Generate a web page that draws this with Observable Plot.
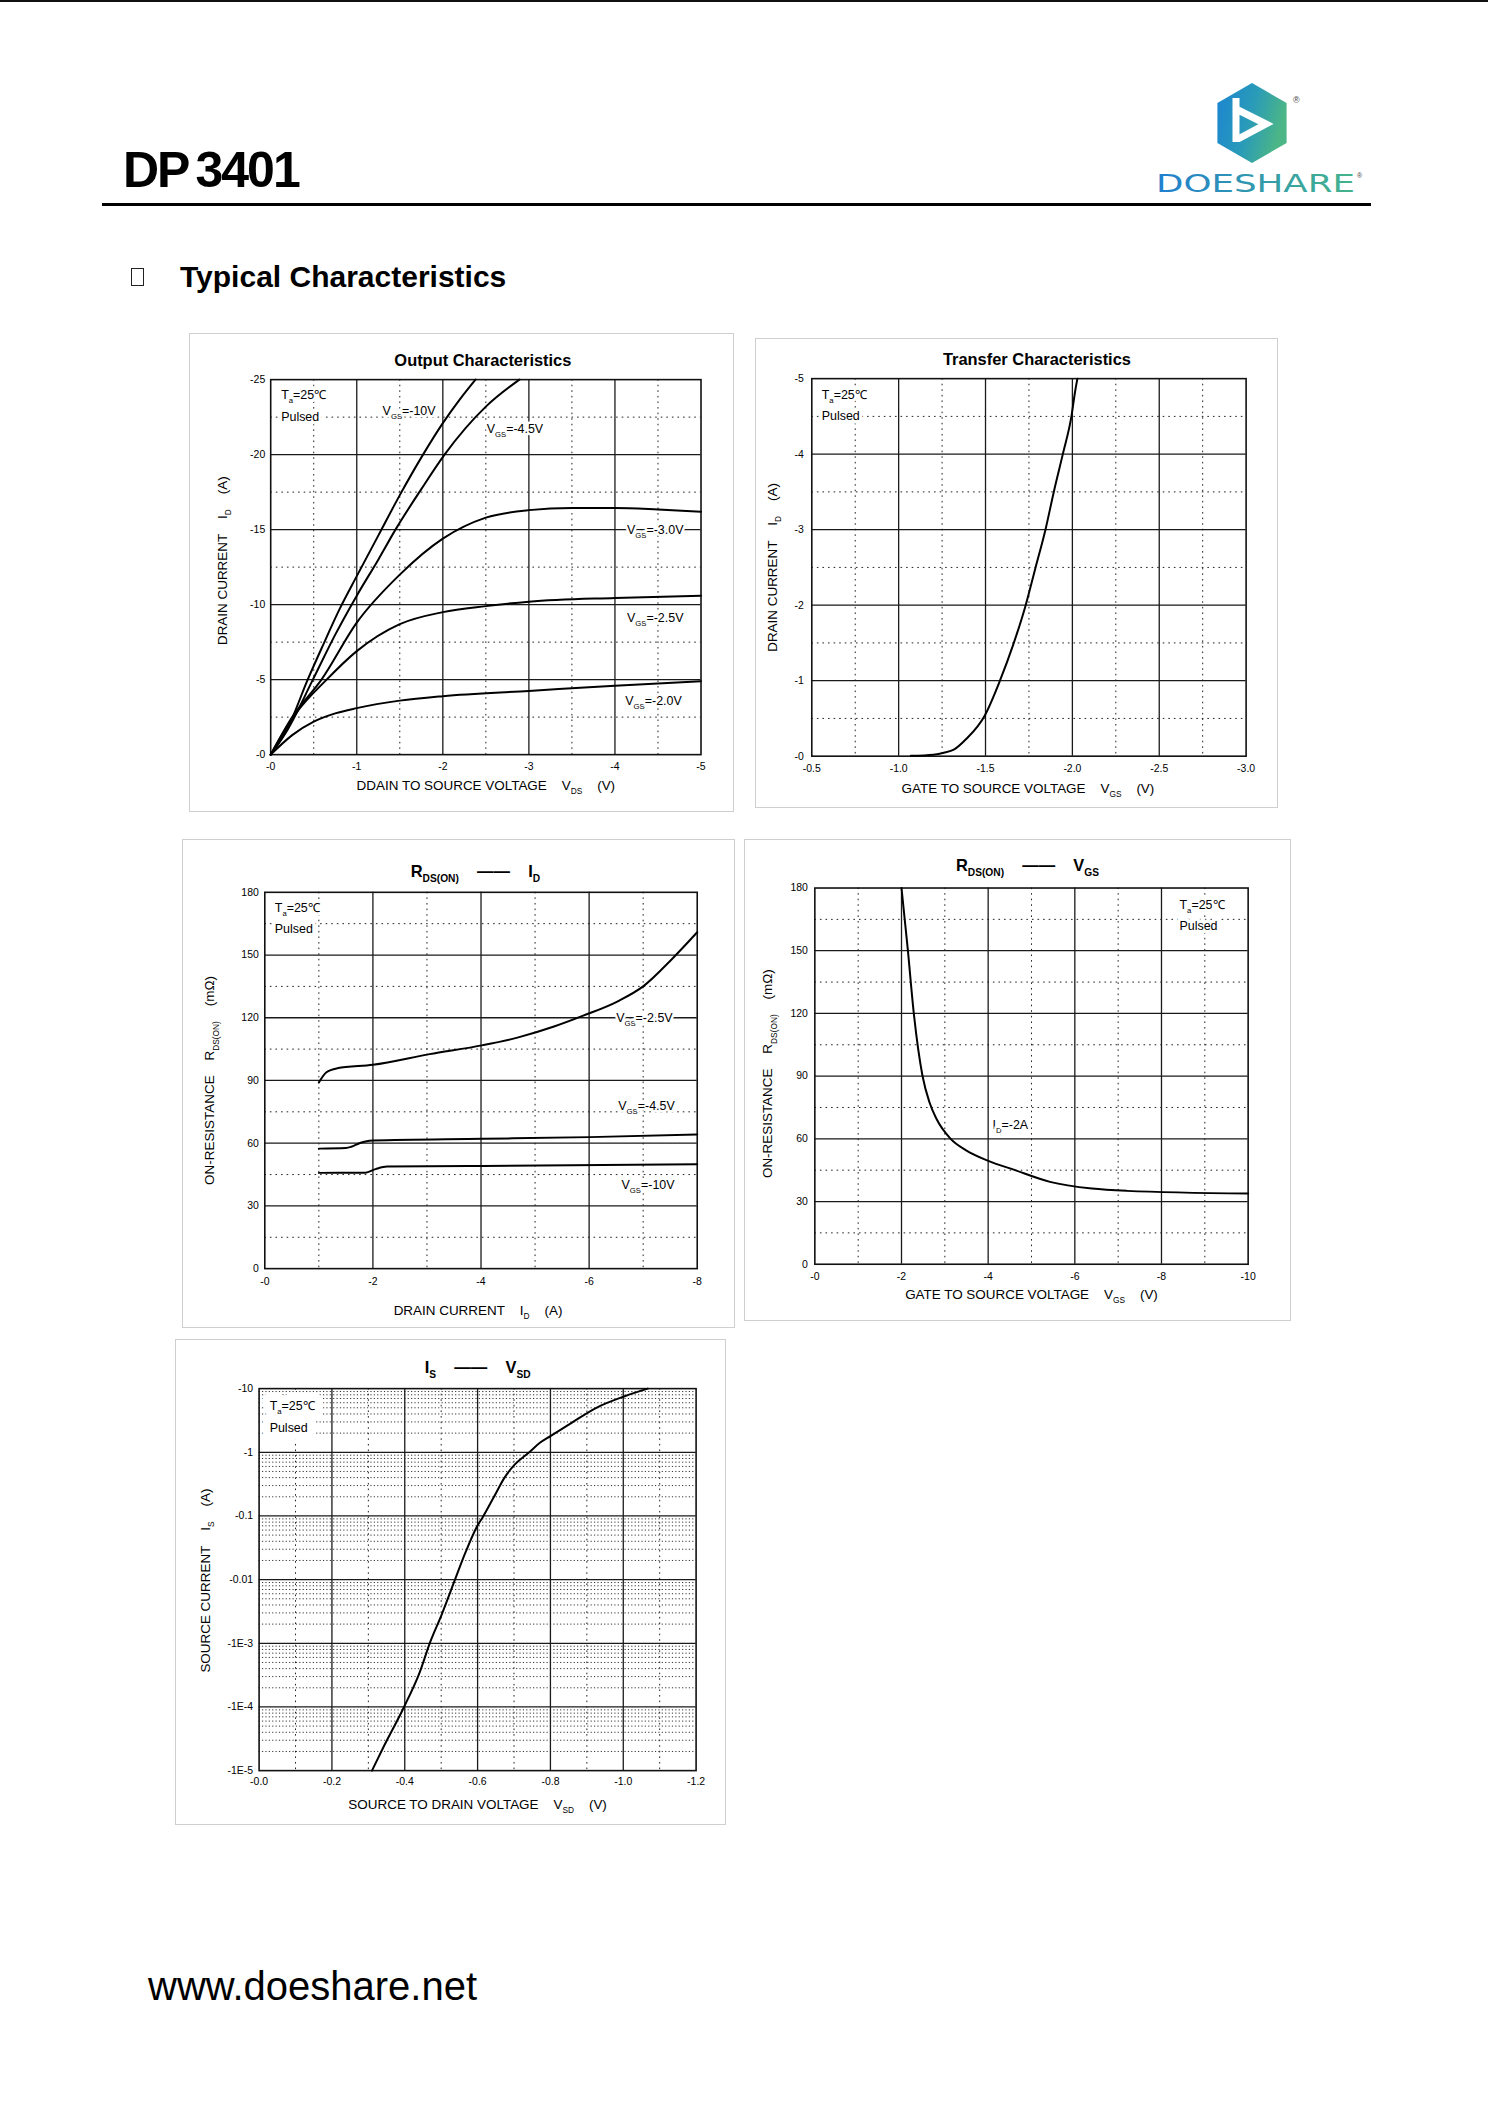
<!DOCTYPE html>
<html lang="en">
<head>
<meta charset="utf-8">
<title>DP3401 Typical Characteristics</title>
<script src="https://cdn.jsdelivr.net/npm/d3@7"></script>
<script src="https://cdn.jsdelivr.net/npm/@observablehq/plot@0.6"></script>
<style>
html,body{margin:0;padding:0;background:#fff;}
#page{position:relative;width:1488px;height:2104px;overflow:hidden;font-family:"Liberation Sans",Arial,Helvetica,sans-serif;color:#000;background:#fff;}
.abs{position:absolute;}
.chartbox{position:absolute;box-sizing:border-box;border:1px solid #cfcfcf;}
.chartbox svg{position:absolute;left:-1px;top:-1px;}
</style>
</head>
<body>
<div id="page">
  <div class="abs" style="left:0;top:0;width:1488px;height:2px;background:#111"></div>
  <div class="abs" style="left:123px;top:145px;font-size:50px;line-height:50px;font-weight:bold;letter-spacing:-2px;white-space:nowrap">DP<span style="margin-left:7px">3401</span></div>
  <div class="abs" style="left:102px;top:203px;width:1269px;height:3px;background:#000"></div>
  <svg class="abs" style="left:1150px;top:76px" width="220" height="124" viewBox="0 0 220 124">
    <defs>
      <linearGradient id="hexg" x1="0" y1="0" x2="1" y2="0.3">
        <stop offset="0" stop-color="#1a84d2"/><stop offset="0.55" stop-color="#2a9bb8"/><stop offset="1" stop-color="#4cb686"/>
      </linearGradient>
      <linearGradient id="txtg" gradientUnits="userSpaceOnUse" x1="6" y1="0" x2="206" y2="0">
        <stop offset="0" stop-color="#1f7fd0"/><stop offset="1" stop-color="#45b48a"/>
      </linearGradient>
    </defs>
    <polygon points="102,7 136.6,27 136.6,67 102,87 67.4,67 67.4,27" fill="url(#hexg)"/>
    <path d="M86,22 L86,66 M86,33 L116,48 L88,63" fill="none" stroke="#fff" stroke-width="7" stroke-linejoin="miter"/>
    <text x="143" y="27" font-size="9" fill="#444">®</text>
    <text x="6" y="116" font-size="25" font-family="DejaVu Sans, sans-serif" textLength="199" lengthAdjust="spacingAndGlyphs" fill="url(#txtg)">DOESHARE</text>
    <text x="207" y="102" font-size="7" fill="#444">®</text>
  </svg>
  <div class="abs" style="left:131px;top:268px;width:13px;height:18px;box-sizing:border-box;border:1.3px solid #222"></div>
  <div class="abs" style="left:180px;top:262px;font-size:30px;line-height:30px;font-weight:bold;white-space:nowrap">Typical Characteristics</div>
  <div class="abs" style="left:148px;top:1966px;font-size:40px;line-height:40px;white-space:nowrap">www.doeshare.net</div>
</div>
<script>
// ---------------- DATA ----------------
// 1. Output characteristics: [VDS (V), ID (A)]
const outVgs10 = [[0,0],[-0.2,-1.8],[-0.43,-5],[-0.6,-7.2],[-0.8,-9.7],[-1.0,-11.9],[-1.25,-14.6],[-1.5,-17.3],[-1.77,-20],[-2.0,-22.1],[-2.2,-23.7],[-2.38,-25]];
const outVgs45 = [[0,0],[-0.2,-1.7],[-0.49,-5],[-0.75,-8.0],[-1.0,-10.6],[-1.25,-13.0],[-1.45,-15],[-1.75,-17.7],[-2.02,-20],[-2.5,-23.2],[-2.89,-25]];
const outVgs30 = [[0,0],[-0.25,-2.5],[-0.59,-5],[-1.0,-8.8],[-1.5,-12.0],[-2.0,-14.4],[-2.5,-15.8],[-3.0,-16.3],[-3.5,-16.45],[-4.0,-16.45],[-4.5,-16.35],[-5.0,-16.2]];
const outVgs25 = [[0,0],[-0.3,-2.8],[-0.65,-5],[-1.0,-6.9],[-1.5,-8.7],[-2.0,-9.5],[-2.5,-9.9],[-3.0,-10.2],[-4.0,-10.45],[-5.0,-10.6]];
const outVgs20 = [[0,0],[-0.25,-1.3],[-0.5,-2.2],[-0.75,-2.75],[-1.0,-3.1],[-1.5,-3.6],[-2.0,-3.9],[-3.0,-4.25],[-4.0,-4.6],[-5.0,-4.9]];
const outLabels = ["V_{GS}=-10V","V_{GS}=-4.5V","V_{GS}=-3.0V","V_{GS}=-2.5V","V_{GS}=-2.0V"];
const outLabelAt = [[-1.30,-22.9],[-2.51,-21.7],[-4.14,-15.0],[-4.14,-9.1],[-4.12,-3.6]];
const outXTicks = [0,-1,-2,-3,-4,-5];
const outXMinor = [-0.5,-1.5,-2.5,-3.5,-4.5];
const outYTicks = [0,-5,-10,-15,-20,-25];
const outYMinor = [-2.5,-7.5,-12.5,-17.5,-22.5];

// 2. Transfer characteristics: VGS (V), ID (A)
const trVgs = [-1.07,-1.2,-1.26,-1.32,-1.39,-1.496,-1.583,-1.66,-1.73,-1.787,-1.845,-1.893,-1.946,-1.996,-2.015,-2.029];
const trId  = [-0.005,-0.02,-0.045,-0.09,-0.23,-0.54,-1.0,-1.48,-1.99,-2.49,-3.0,-3.5,-4.01,-4.52,-4.82,-5.0];
const trXTicks = [-0.5,-1.0,-1.5,-2.0,-2.5,-3.0];
const trXMinor = [-0.75,-1.25,-1.75,-2.25,-2.75];
const trYTicks = [0,-1,-2,-3,-4,-5];
const trYMinor = [-0.5,-1.5,-2.5,-3.5,-4.5];

// 3. RDS(ON) vs ID: [ID (A), RDS(ON) (mΩ)]
const rdsIdVgs25 = [[-1.0,89],[-1.14,93.9],[-1.34,95.8],[-2.0,97.5],[-3.05,102.6],[-4.04,106.9],[-4.69,110.6],[-5.35,115.8],[-5.88,120.9],[-6.54,128],[-7.0,135],[-7.53,148],[-8.0,160.9]];
const rdsIdVgs45 = [[-1.0,57.4],[-1.5,57.7],[-1.6,58.3],[-1.75,60],[-1.86,60.8],[-2.0,61.3],[-4.04,62.1],[-6.01,62.9],[-8.0,64.2]];
const rdsIdVgs10 = [[-1.0,45.8],[-1.86,45.9],[-2.05,47.6],[-2.26,48.8],[-4.04,49.1],[-8.0,49.9]];
const rdsIdLabels = ["V_{GS}=-2.5V","V_{GS}=-4.5V","V_{GS}=-10V"];
const rdsIdLabelAt = [[-6.5,120],[-6.54,78],[-6.6,40.2]];
const rdsIdXTicks = [0,-2,-4,-6,-8];
const rdsIdXMinor = [-1,-3,-5,-7];
const rdsYTicks = [0,30,60,90,120,150,180];
const rdsYMinor = [15,45,75,105,135,165];

// 4. RDS(ON) vs VGS: [VGS (V), RDS(ON) (mΩ)], ID = -2A
const rdsVgs = [[-2.0,180],[-2.145,150.6],[-2.282,120.4],[-2.484,90.2],[-2.645,77.5],[-2.806,69.6],[-3.129,60.1],[-3.492,54.5],[-3.976,49.7],[-4.621,45.0],[-5.427,39.4],[-6.395,36.2],[-7.2,35.1],[-10.0,33.8]];
const rdsVgsLabels = ["I_{D}=-2A"];
const rdsVgsLabelAt = [[-4.1,66.4]];
const rdsVgsXTicks = [0,-2,-4,-6,-8,-10];
const rdsVgsXMinor = [-1,-3,-5,-7,-9];

// 5. IS vs VSD: [VSD (V), IS (A)]
const isVsd = [[-0.31,-1.0e-5],[-0.344,-2.5e-5],[-0.398,-1e-4],[-0.441,-3.5e-4],[-0.47,-1.05e-3],[-0.5,-2.7e-3],[-0.538,-0.01],[-0.567,-0.027],[-0.597,-0.066],[-0.616,-0.1],[-0.645,-0.2],[-0.674,-0.4],[-0.703,-0.65],[-0.742,-1.0],[-0.771,-1.41],[-0.80,-1.8],[-0.858,-2.9],[-0.926,-5.0],[-1.004,-7.6],[-1.067,-10]];
const isXTicks = [0,-0.2,-0.4,-0.6,-0.8,-1.0,-1.2];
const isXMinor = [-0.1,-0.3,-0.5,-0.7,-0.9,-1.1];
const isYTicks = [-10,-1,-0.1,-0.01,-1e-3,-1e-4,-1e-5];
const isYTickLabels = ["-10","-1","-0.1","-0.01","-1E-3","-1E-4","-1E-5"];
const isYMinor = isYTicks.slice(1).flatMap(d => [2,3,4,5,6,7,8,9].map(k => d * k));

// ---------------- RENDERING ----------------
const FONT = '"Liberation Sans", Arial, Helvetica, sans-serif';
const NB = "\u00a0\u00a0\u00a0\u00a0";

function subscriptify(svg) {
  const NS = "http://www.w3.org/2000/svg";
  const els = [];
  svg.querySelectorAll("text").forEach(t => {
    const spans = t.querySelectorAll("tspan");
    if (spans.length) spans.forEach(s => els.push(s)); else els.push(t);
  });
  for (const el of els) {
    const s = el.textContent;
    if (!s.includes("_{")) continue;
    const fs = parseFloat(getComputedStyle(el).fontSize) || 12;
    const shift = fs * 0.32;
    while (el.firstChild) el.removeChild(el.firstChild);
    const re = /_\{([^}]*)\}/g;
    let last = 0, m, down = false;
    const add = (txt, sub) => {
      if (!txt) return;
      const ts = document.createElementNS(NS, "tspan");
      ts.textContent = txt;
      if (sub) {
        ts.setAttribute("font-size", (fs * 0.62).toFixed(2));
        if (!down) { ts.setAttribute("dy", shift.toFixed(2)); down = true; }
      } else if (down) { ts.setAttribute("dy", (-shift).toFixed(2)); down = false; }
      el.appendChild(ts);
    };
    while ((m = re.exec(s))) { add(s.slice(last, m.index), false); add(m[1], true); last = re.lastIndex; }
    add(s.slice(last), false);
  }
}

function chart(o) {
  const [bx0, by0, bx1, by1] = o.box;
  const [fx0, fy0, fx1, fy1] = o.frame;
  const width = bx1 - bx0, height = by1 - by0;
  const dash = o.dash || "1.6,4";
  const marks = [
    Plot.ruleX(o.xMinor, {stroke: "#222", strokeWidth: 1, strokeDasharray: dash}),
    Plot.ruleY(o.yMinor, {stroke: o.yMinorColor || "#222", strokeWidth: 1, strokeDasharray: o.yDash || dash}),
    Plot.ruleX(o.xMajor, {stroke: "#1a1a1a", strokeWidth: 1.3}),
    Plot.ruleY(o.yMajor, {stroke: "#1a1a1a", strokeWidth: 1.3}),
    Plot.frame({stroke: "#111", strokeWidth: 1.6}),
    ...o.series.map(s => Plot.line(s.data, {x: s.x, y: s.y, curve: "monotone-x", stroke: "#000", strokeWidth: 2})),
  ];
  if (o.labels) {
    marks.push(Plot.text(o.labels, {
      x: (d, i) => o.labelAt[i][0], y: (d, i) => o.labelAt[i][1], text: d => d,
      textAnchor: "start", lineAnchor: "middle", fontSize: 12.5,
      fill: "#000", stroke: "#fff", strokeWidth: 5, paintOrder: "stroke"
    }));
  }
  // notes: a white halo layer first, then the black text on top
  o.notes.forEach(n => marks.push(Plot.text([n.text], {
    text: d => d, frameAnchor: "top-left", textAnchor: "start", lineAnchor: "middle",
    dx: n.dx, dy: n.dy, fontSize: 12.5, fill: "#fff", stroke: "#fff", strokeWidth: o.noteHalo || 7
  })));
  o.notes.forEach(n => marks.push(Plot.text([n.text], {
    text: d => d, frameAnchor: "top-left", textAnchor: "start", lineAnchor: "middle",
    dx: n.dx, dy: n.dy, fontSize: 12.5, fill: "#000"
  })));
  marks.push(Plot.text([o.title], {text: d => d, frameAnchor: "top", textAnchor: "middle", lineAnchor: "middle", dx: o.titleDx, dy: o.titleDy, fontSize: 16.5, fontWeight: "bold"}));
  marks.push(Plot.text([o.xLabel], {text: d => d, frameAnchor: "bottom", textAnchor: "middle", lineAnchor: "middle", dx: o.xLabelDx || 0, dy: o.xLabelDy, fontSize: 13.5}));
  marks.push(Plot.text([o.yLabel], {text: d => d, frameAnchor: "left", textAnchor: "middle", rotate: -90, lineAnchor: "middle", dx: o.yLabelDx, dy: o.yLabelDy || 0, fontSize: 13.5}));

  const svg = Plot.plot({
    width, height,
    marginLeft: fx0 - bx0, marginRight: bx1 - fx1, marginTop: fy0 - by0, marginBottom: by1 - fy1,
    style: {fontFamily: FONT, fontSize: "10.5px", color: "#000", background: "transparent", overflow: "visible"},
    x: {domain: o.xDomain, ticks: o.xTicks, tickFormat: o.xFmt, tickSize: 0, tickPadding: o.xPad, label: null},
    y: {type: o.yType || "linear", domain: o.yDomain, ticks: o.yTicks, tickFormat: o.yFmt, tickSize: 0, tickPadding: o.yPad, label: null},
    marks
  });
  const box = document.createElement("div");
  box.className = "chartbox";
  Object.assign(box.style, {left: bx0 + "px", top: by0 + "px", width: width + "px", height: height + "px"});
  box.appendChild(svg);
  document.getElementById("page").appendChild(box);
  subscriptify(svg);
}

const intNeg = d => d === 0 ? "-0" : String(d);
const fix1 = d => (d === 0 ? "-" : "") + d.toFixed(1);
const xy = {x: d => d[0], y: d => d[1]};

// 1. Output characteristics
chart({
  box: [189, 333, 734, 812], frame: [270.5, 379.3, 702.4, 755.7],
  xDomain: [0, -5], yDomain: [0, -25],
  xTicks: outXTicks, yTicks: outYTicks, xMajor: outXTicks.slice(1, -1), yMajor: outYTicks.slice(1, -1),
  xMinor: outXMinor, yMinor: outYMinor, xFmt: intNeg, yFmt: intNeg, xPad: 8, yPad: 5.5,
  series: [outVgs10, outVgs45, outVgs30, outVgs25, outVgs20].map(d => ({data: d, ...xy})),
  labels: outLabels, labelAt: outLabelAt,
  notes: [{text: "T_{a}=25℃", dx: 10.5, dy: 15.7}, {text: "Pulsed", dx: 10.5, dy: 37.4}],
  title: "Output Characteristics", titleDx: -3, titleDy: -19,
  xLabel: "DDAIN TO SOURCE VOLTAGE" + NB + "V_{DS}" + NB + "(V)", xLabelDy: 31,
  yLabel: "DRAIN CURRENT" + NB + "I_{D}" + NB + "(A)", yLabelDx: -48, yLabelDy: -6.5
});

// 2. Transfer characteristics
chart({
  box: [755, 338, 1278, 808], frame: [811.5, 378.3, 1247.5, 757.3],
  xDomain: [-0.5, -3.0], yDomain: [0, -5],
  xTicks: trXTicks, yTicks: trYTicks, xMajor: trXTicks.slice(1, -1), yMajor: trYTicks.slice(1, -1),
  xMinor: trXMinor, yMinor: trYMinor, xFmt: fix1, yFmt: intNeg, xPad: 8, yPad: 8,
  series: [{data: trVgs, x: (d, i) => trVgs[i], y: (d, i) => trId[i]}],
  notes: [{text: "T_{a}=25℃", dx: 10, dy: 16.7}, {text: "Pulsed", dx: 10, dy: 37.7}],
  title: "Transfer Characteristics", titleDx: 8, titleDy: -18.5,
  xLabel: "GATE TO SOURCE VOLTAGE" + NB + "V_{GS}" + NB + "(V)", xLabelDx: -1, xLabelDy: 32.7,
  yLabel: "DRAIN CURRENT" + NB + "I_{D}" + NB + "(A)", yLabelDx: -39.5, yLabelDy: 0
});

// 3. RDS(ON) vs ID
chart({
  box: [182, 839, 735, 1328], frame: [264.6, 892, 698.6, 1269.7],
  xDomain: [0, -8], yDomain: [0, 180],
  xTicks: rdsIdXTicks, yTicks: rdsYTicks, xMajor: rdsIdXTicks.slice(1, -1), yMajor: rdsYTicks.slice(1, -1),
  xMinor: rdsIdXMinor, yMinor: rdsYMinor, xFmt: intNeg, yFmt: d => String(d), xPad: 9, yPad: 6,
  series: [rdsIdVgs25, rdsIdVgs45, rdsIdVgs10].map(d => ({data: d, ...xy})),
  labels: rdsIdLabels, labelAt: rdsIdLabelAt,
  notes: [{text: "T_{a}=25℃", dx: 10, dy: 15.7}, {text: "Pulsed", dx: 10, dy: 37.3}],
  title: "R_{DS(ON)}" + NB + "——" + NB + "I_{D}", titleDx: -5.6, titleDy: -21,
  xLabel: "DRAIN CURRENT" + NB + "I_{D}" + NB + "(A)", xLabelDx: -3, xLabelDy: 42,
  yLabel: "ON-RESISTANCE" + NB + "R_{DS(ON)}" + NB + "(mΩ)", yLabelDx: -55, yLabelDy: 0
});

// 4. RDS(ON) vs VGS
chart({
  box: [744, 839, 1291, 1321], frame: [814.6, 887.7, 1249.5, 1265.3],
  xDomain: [0, -10], yDomain: [0, 180],
  xTicks: rdsVgsXTicks, yTicks: rdsYTicks, xMajor: rdsVgsXTicks.slice(1, -1), yMajor: rdsYTicks.slice(1, -1),
  xMinor: rdsVgsXMinor, yMinor: rdsYMinor, xFmt: intNeg, yFmt: d => String(d), xPad: 8.7, yPad: 7,
  series: [{data: rdsVgs, ...xy}],
  labels: rdsVgsLabels, labelAt: rdsVgsLabelAt,
  notes: [{text: "T_{a}=25℃", dx: 366, dy: 16.6}, {text: "Pulsed", dx: 366, dy: 38.3}],
  title: "R_{DS(ON)}" + NB + "——" + NB + "V_{GS}", titleDx: -4, titleDy: -22.7,
  xLabel: "GATE TO SOURCE VOLTAGE" + NB + "V_{GS}" + NB + "(V)", xLabelDx: 0, xLabelDy: 30.7,
  yLabel: "ON-RESISTANCE" + NB + "R_{DS(ON)}" + NB + "(mΩ)", yLabelDx: -47, yLabelDy: -2.5
});

// 5. IS vs VSD
chart({
  box: [175, 1339, 726, 1825], frame: [258.9, 1388.3, 697.5, 1771.7],
  xDomain: [0, -1.2], yType: "log", yDomain: [-1e-5, -10],
  xTicks: isXTicks, yTicks: isYTicks, xMajor: isXTicks.slice(1, -1), yMajor: isYTicks.slice(1, -1),
  xMinor: isXMinor, yMinor: isYMinor, yMinorColor: "#333", yDash: "1.2,2.2",
  xFmt: fix1, yFmt: d => isYTickLabels[isYTicks.indexOf(d)], xPad: 7.3, yPad: 6,
  series: [{data: isVsd, ...xy}],
  notes: [{text: "T_{a}=25℃", dx: 10.6, dy: 17.7}, {text: "Pulsed", dx: 10.6, dy: 39.4}], noteHalo: 16,
  title: "I_{S}" + NB + "——" + NB + "V_{SD}", titleDx: 0, titleDy: -21,
  xLabel: "SOURCE TO DRAIN VOLTAGE" + NB + "V_{SD}" + NB + "(V)", xLabelDx: 0, xLabelDy: 34.3,
  yLabel: "SOURCE CURRENT" + NB + "I_{S}" + NB + "(A)", yLabelDx: -54, yLabelDy: 1
});
</script>
</body>
</html>
